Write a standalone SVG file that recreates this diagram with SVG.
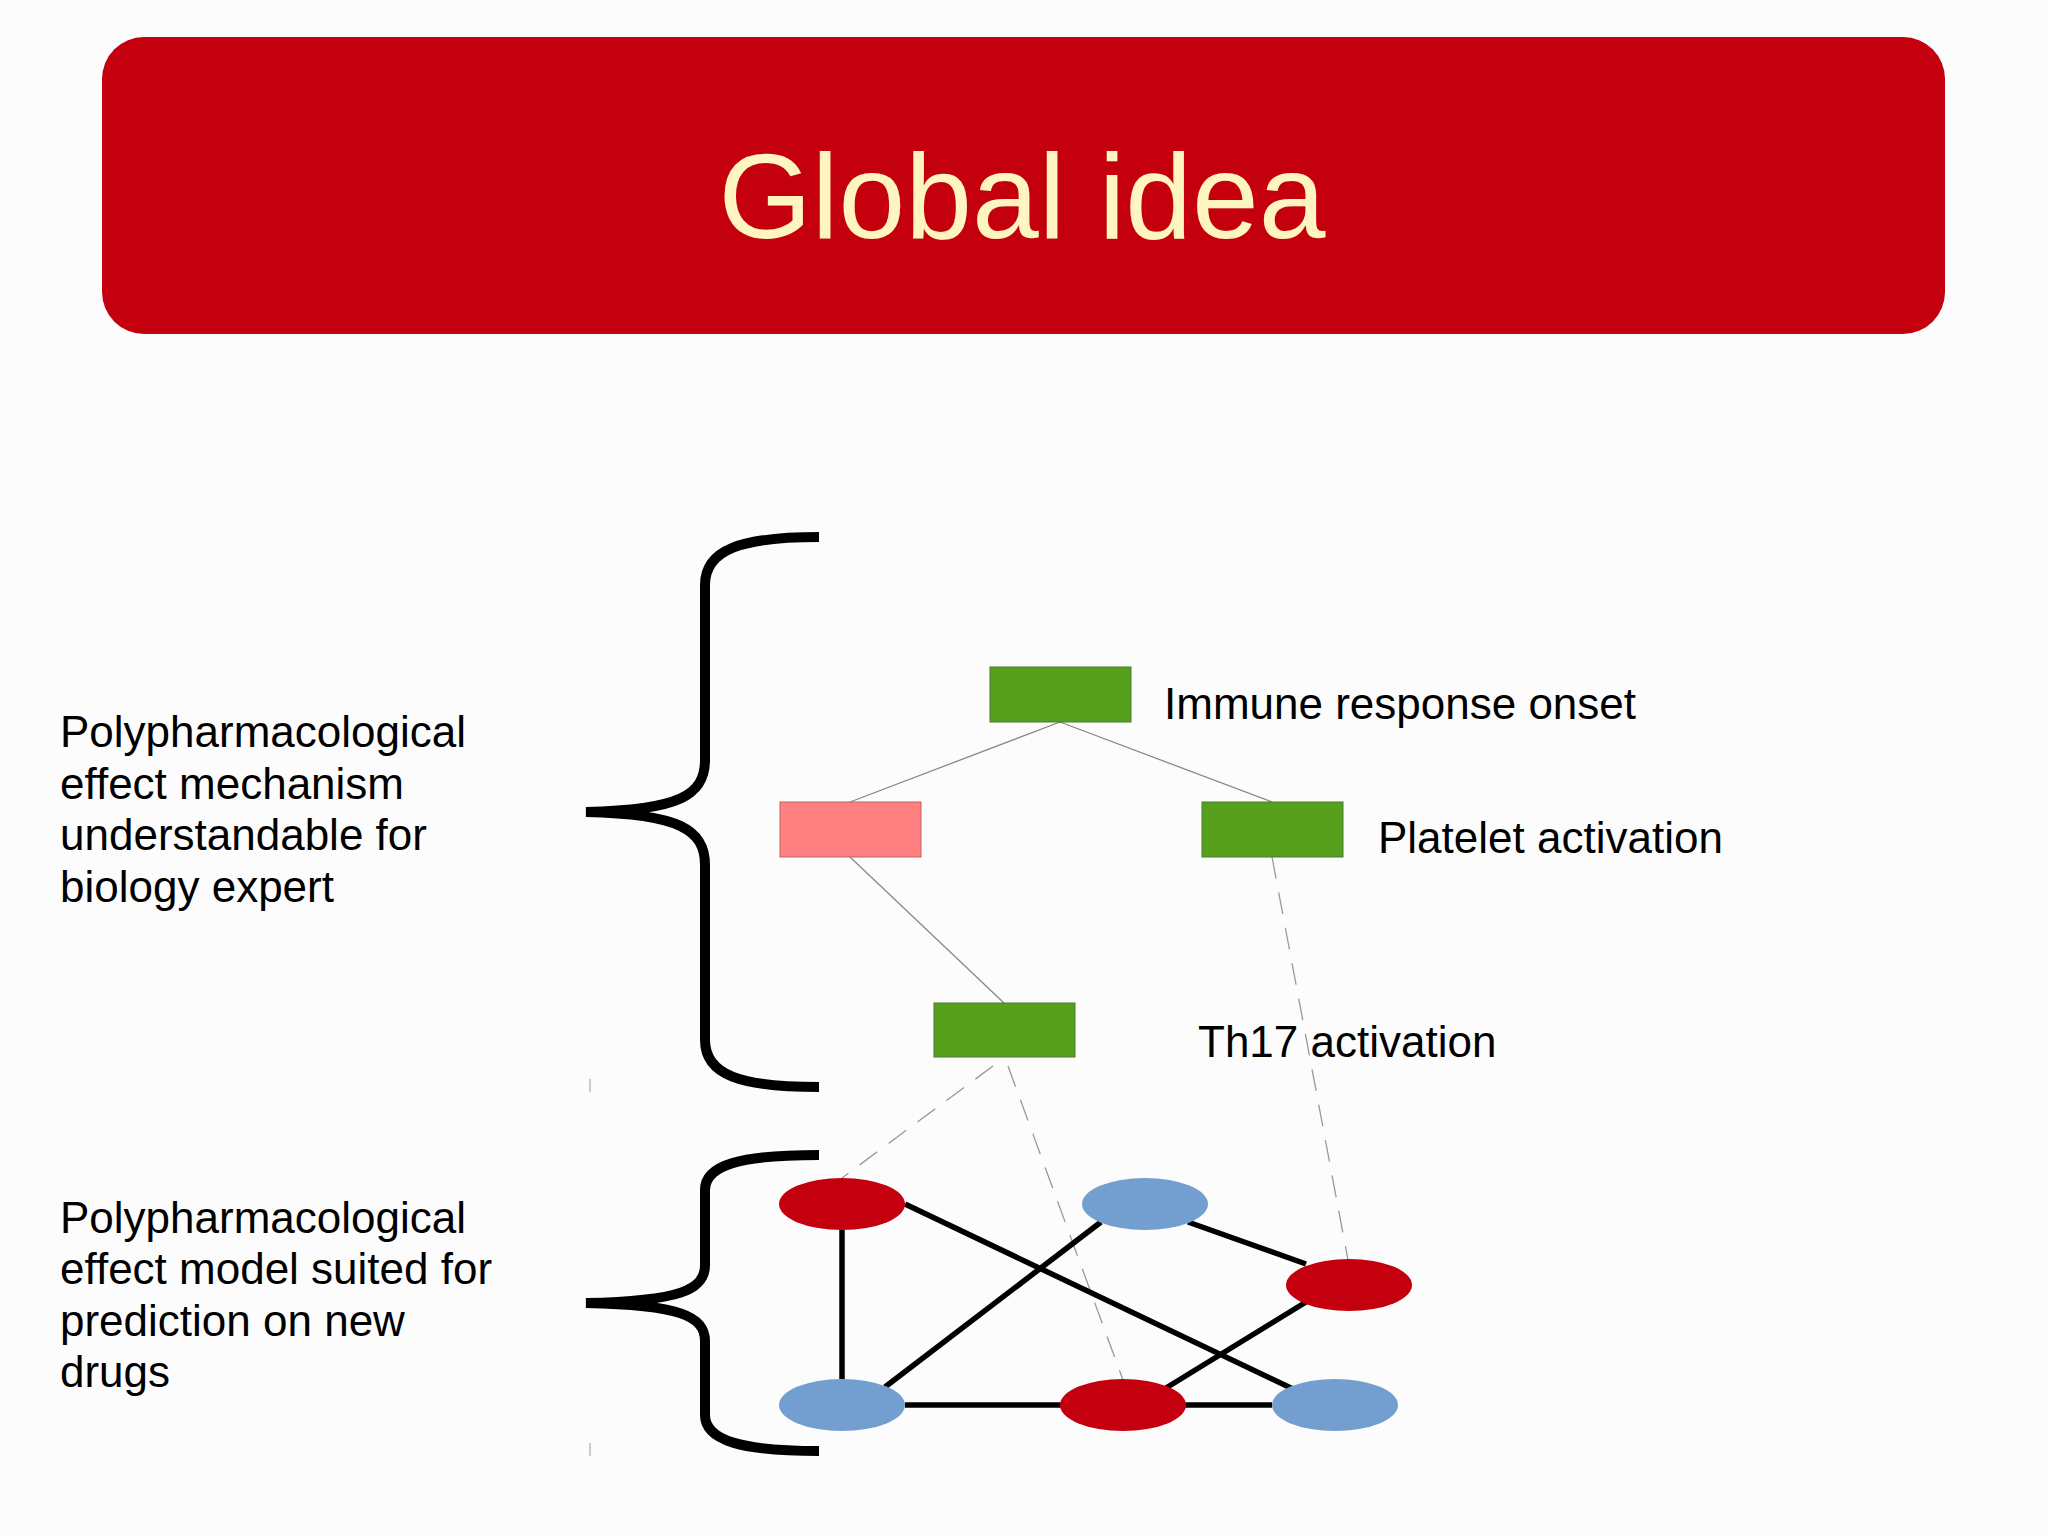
<svg xmlns="http://www.w3.org/2000/svg" width="2048" height="1535" viewBox="0 0 2048 1535">
<style>
.t{font-family:"Liberation Sans",Arial,sans-serif;font-size:44px;fill:#000}
.g{fill:#56a01e;stroke:#4a7a2a;stroke-width:1}
.thin{stroke:#888;stroke-width:1.3;fill:none}
.dash{stroke:#999;stroke-width:1.3;fill:none;stroke-dasharray:22 14}
.e{stroke:#000;stroke-width:5.5;fill:none}
.br{stroke:#000;stroke-width:10;fill:none}
.red{fill:#c4000f}.blue{fill:#729fcf}
</style>
<rect width="2048" height="1535" fill="#fcfcfc"/>
<g id="header">
<rect x="102" y="37" width="1843" height="297" rx="42" fill="#c4000f"/>
<text x="1022" y="238" text-anchor="middle" font-family="Liberation Sans,Arial,sans-serif" font-size="120" fill="#fff5c0">Global idea</text>
</g>
<g id="connectors">
<line class="thin" x1="1060" y1="722" x2="850" y2="802"/>
<line class="thin" x1="1060" y1="722" x2="1272" y2="802"/>
<line class="thin" x1="850" y1="857" x2="1004" y2="1003"/>
<line class="dash" x1="1272" y1="857" x2="1348" y2="1260"/>
<line class="dash" x1="993" y1="1066" x2="842" y2="1178"/>
<line class="dash" x1="1008" y1="1066" x2="1123" y2="1380"/>
<line class="e" x1="842" y1="1230" x2="842" y2="1379"/>
<line class="e" x1="905" y1="1204" x2="1293" y2="1389"/>
<line class="e" x1="1101" y1="1222" x2="885" y2="1387"/>
<line class="e" x1="1188" y1="1222" x2="1306" y2="1264"/>
<line class="e" x1="1306" y1="1302" x2="1166" y2="1388"/>
<line class="e" x1="905" y1="1405" x2="1272" y2="1405"/>
</g>
<g id="brace1"><path class="br" d="M819,537 C740,537 705,550 705,585 L705,760 C705,795 680,810 586,812 C680,814 705,830 705,865 L705,1040 C705,1075 740,1087 819,1087"/></g>
<g id="brace2"><path class="br" d="M819,1155 C740,1155 705,1165 705,1190 L705,1265 C705,1290 680,1301 586,1303 C680,1305 705,1316 705,1341 L705,1415 C705,1440 740,1451 819,1451"/></g>
<g id="ticks" stroke="#bbb" stroke-width="1.5"><line x1="590" y1="1079" x2="590" y2="1092"/><line x1="590" y1="1443" x2="590" y2="1456"/></g>
<g id="label1"><text class="t"><tspan x="60" y="747">Polypharmacological</tspan><tspan x="60" y="799">effect mechanism</tspan><tspan x="60" y="850">understandable for</tspan><tspan x="60" y="902">biology expert</tspan></text></g>
<g id="label2"><text class="t"><tspan x="60" y="1233">Polypharmacological</tspan><tspan x="60" y="1284">effect model suited for</tspan><tspan x="60" y="1336">prediction on new</tspan><tspan x="60" y="1387">drugs</tspan></text></g>
<g id="immune"><rect class="g" x="990" y="667" width="141" height="55"/><text class="t" x="1164" y="719">Immune response onset</text></g>
<g id="pink"><rect x="780" y="802" width="141" height="55" fill="#ff8080" stroke="#c06060" stroke-width="1"/></g>
<g id="platelet"><rect class="g" x="1202" y="802" width="141" height="55"/><text class="t" x="1378" y="853">Platelet activation</text></g>
<g id="th17"><rect class="g" x="934" y="1003" width="141" height="54"/><text class="t" x="1198" y="1057">Th17 activation</text></g>
<g id="n1"><ellipse class="red" cx="842" cy="1204" rx="63" ry="26"/></g>
<g id="n2"><ellipse class="blue" cx="1145" cy="1204" rx="63" ry="26"/></g>
<g id="n3"><ellipse class="red" cx="1349" cy="1285" rx="63" ry="26"/></g>
<g id="n4"><ellipse class="blue" cx="842" cy="1405" rx="63" ry="26"/></g>
<g id="n5"><ellipse class="red" cx="1123" cy="1405" rx="63" ry="26"/></g>
<g id="n6"><ellipse class="blue" cx="1335" cy="1405" rx="63" ry="26"/></g>
</svg>
